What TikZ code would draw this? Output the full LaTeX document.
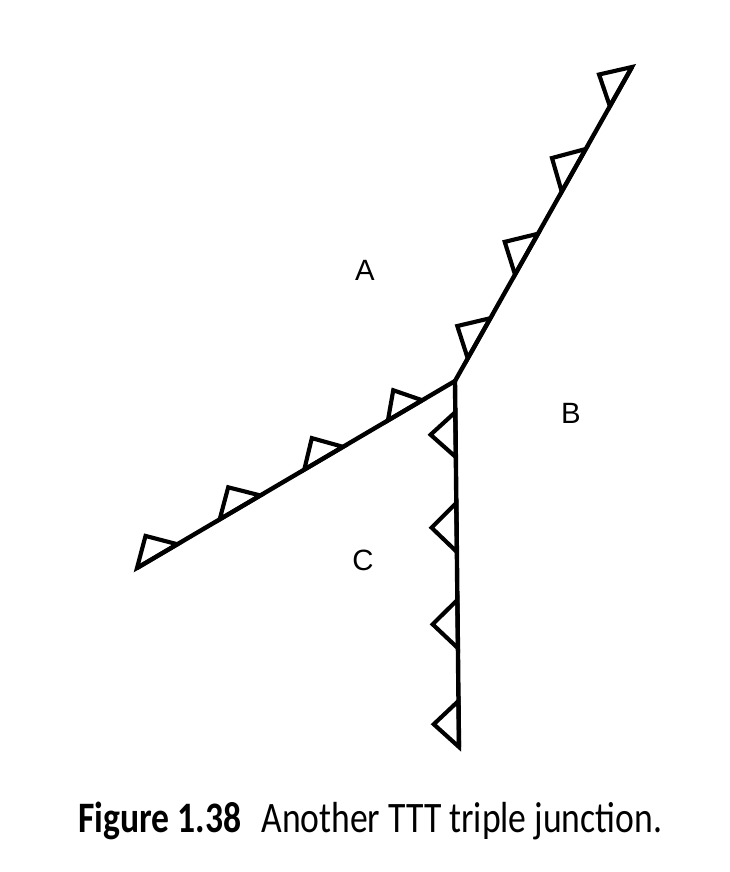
\documentclass[tikz,border=0pt]{standalone}
\usepackage{fontspec}
\setmainfont{Liberation Sans}
\newfontfamily\capfont[FakeStretch=0.82]{Carlito}
\usetikzlibrary{positioning,calc}

\begin{document}
\begin{tikzpicture}[x=0.75pt,y=-0.75pt,
    fault/.style={line width=3.3pt},
    barb/.style={line width=3.1pt},
    region/.style={inner sep=0pt,font=\fontsize{22}{24}\selectfont}]

  \useasboundingbox (0,0) rectangle (730,872);

  % Junction
  \node [coordinate] (j) at (455,381) {};

  % Fault 1
  \node [coordinate,above right=235.5pt and 132.75pt of j] (ne) {};
  \draw [fault] (j) -- (ne);
  \draw [barb] ($(j)!0.072!(ne)$) -- ($(j)!0.136!(ne)!18.75pt!90:(ne)$) -- ($(j)!0.200!(ne)$) -- cycle;
  \draw [barb] ($(j)!0.339!(ne)$) -- ($(j)!0.404!(ne)!18.75pt!90:(ne)$) -- ($(j)!0.469!(ne)$) -- cycle;
  \draw [barb] ($(j)!0.603!(ne)$) -- ($(j)!0.671!(ne)!18.75pt!90:(ne)$) -- ($(j)!0.739!(ne)$) -- cycle;
  \draw [barb] ($(j)!0.875!(ne)$) -- ($(j)!0.937!(ne)!18.75pt!90:(ne)$) -- ($(j)!1.000!(ne)$) -- cycle;

  % Fault 2
  \node [coordinate,below left=140.25pt and 238.5pt of j] (sw) {};
  \draw [fault] (j) -- (sw);
  \draw [barb] ($(j)!0.103!(sw)$) -- ($(j)!0.157!(sw)!17.5pt!-90:(sw)$) -- ($(j)!0.211!(sw)$) -- cycle;
  \draw [barb] ($(j)!0.352!(sw)$) -- ($(j)!0.413!(sw)!17.5pt!-90:(sw)$) -- ($(j)!0.474!(sw)$) -- cycle;
  \draw [barb] ($(j)!0.612!(sw)$) -- ($(j)!0.676!(sw)!17.5pt!-90:(sw)$) -- ($(j)!0.740!(sw)$) -- cycle;
  \draw [barb] ($(j)!0.873!(sw)$) -- ($(j)!0.936!(sw)!17.5pt!-90:(sw)$) -- ($(j)!1.000!(sw)$) -- cycle;

  % Fault 3
  \node [coordinate,below right=274.5pt and 3pt of j] (s) {};
  \draw [fault] (j) -- (s);
  \draw [barb] ($(j)!0.085!(s)$) -- ($(j)!0.146!(s)!18.75pt!-90:(s)$) -- ($(j)!0.208!(s)$) -- cycle;
  \draw [barb] ($(j)!0.333!(s)$) -- ($(j)!0.400!(s)!18.75pt!-90:(s)$) -- ($(j)!0.467!(s)$) -- cycle;
  \draw [barb] ($(j)!0.598!(s)$) -- ($(j)!0.664!(s)!18.75pt!-90:(s)$) -- ($(j)!0.730!(s)$) -- cycle;
  \draw [barb] ($(j)!0.874!(s)$) -- ($(j)!0.937!(s)!18.75pt!-90:(s)$) -- ($(j)!1.000!(s)$) -- cycle;

  % Blocks
  \node [region] (a) at (365,270) {A};
  \node [region] (b) at (571,413) {B};
  \node [region] (c) at (363,560) {C};

  % Caption
  \node [anchor=base west,inner sep=0pt,font=\capfont\fontsize{32.6}{36}\selectfont] (cap) at (78,832)
    {\textbf{Figure 1.38}\hspace{15pt}Another TTT triple junction.};

\end{tikzpicture}
\end{document}
